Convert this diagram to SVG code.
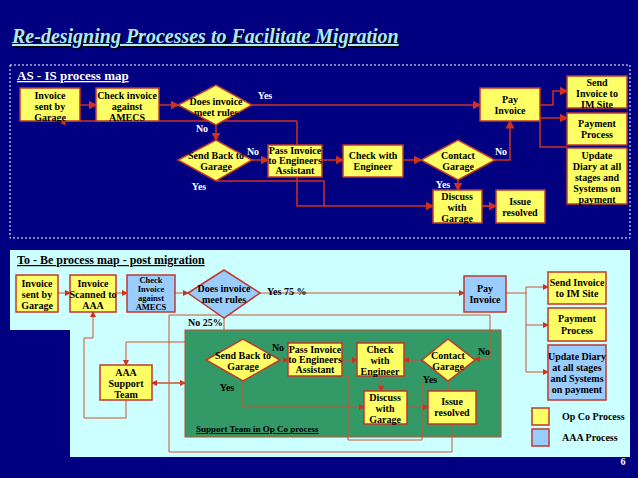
<svg xmlns="http://www.w3.org/2000/svg" width="638" height="478" viewBox="0 0 638 478">
<defs>
<marker id="ar" markerWidth="6" markerHeight="6" refX="5" refY="3" orient="auto"><path d="M0,0L6,3L0,6z" fill="#d03020"/></marker>
<style>
.y{fill:#ffff66;stroke:#c0392b;stroke-width:1.5}
.b{fill:#99ccff;stroke:#c0392b;stroke-width:1.5}
text{font-family:"Liberation Serif",serif;font-weight:bold;font-size:10px;text-anchor:middle;fill:#000}
.w{fill:#fff}
.l{text-anchor:start}
.s{font-size:8.5px}
.c path,.c polyline,.c line{fill:none;stroke:#d03020;stroke-width:1.5}
.c2 path,.c2 polyline,.c2 line{fill:none;stroke:#d05030;stroke-width:1}
</style>
</defs>
<rect width="638" height="478" fill="#000080"/>
<text x="12" y="43" class="l" style="font-size:20px;font-style:italic;fill:#000;text-decoration:underline" transform="translate(1.5,1.5)">Re-designing Processes to Facilitate Migration</text>
<text x="12" y="43" class="l" style="font-size:20px;font-style:italic;fill:#aeeaff;text-decoration:underline">Re-designing Processes to Facilitate Migration</text>
<rect x="10" y="65" width="620" height="173" fill="none" stroke="#fff" stroke-dasharray="2,2"/>
<text x="17" y="80" class="l w" style="font-size:13px;text-decoration:underline">AS - IS   process map</text>
<g class="c">
<line x1="80" y1="105" x2="96" y2="105" marker-end="url(#ar)"/>
<line x1="159" y1="105" x2="178" y2="105" marker-end="url(#ar)"/>
<line x1="252" y1="105" x2="480" y2="105" marker-end="url(#ar)"/>
<line x1="216" y1="125" x2="216" y2="140" marker-end="url(#ar)"/>
<line x1="252" y1="160" x2="268" y2="160" marker-end="url(#ar)"/>
<line x1="322" y1="160" x2="343" y2="160" marker-end="url(#ar)"/>
<line x1="403" y1="160" x2="421" y2="160" marker-end="url(#ar)"/>
<polyline points="495,160 510,160 510,140 510,121" marker-end="url(#ar)"/>
<line x1="458" y1="180" x2="458" y2="190" marker-end="url(#ar)"/>
<polyline points="297,121 297,206 433,206" marker-end="url(#ar)"/>
<polyline points="297,121 58,121" marker-end="url(#ar)"/>
<line x1="482" y1="206" x2="545" y2="206"/>
<line x1="482" y1="206" x2="496" y2="206" marker-end="url(#ar)"/>
<polyline points="216,181 324,181 324,206"/>
<polyline points="540,105 553,105 553,91 567,91" marker-end="url(#ar)"/>
<polyline points="540,118 567,118" marker-end="url(#ar)"/>
<polyline points="540,118 540,147 567,147"/>
</g>
<g id="a1"><rect class="y" x="20" y="88" width="60" height="33"/><text x="50" y="99">Invoice</text><text x="50" y="110">sent by</text><text x="50" y="121">Garage</text></g>
<g id="a2"><rect class="y" x="96" y="88" width="63" height="33"/><text x="127" y="99">Check invoice</text><text x="127" y="110">against</text><text x="127" y="121">AMECS</text></g>
<g id="a3"><polygon class="y" points="178,105 216,85 252,105 216,125"/><text x="216" y="105">Does invoice</text><text x="216" y="116">meet rules</text></g>
<g id="a4"><rect class="y" x="480" y="88" width="60" height="33"/><text x="510" y="103">Pay</text><text x="510" y="114">Invoice</text></g>
<g id="a5"><rect class="y" x="567" y="76" width="60" height="32"/><text x="597" y="86">Send</text><text x="597" y="97">Invoice to</text><text x="597" y="108">IM Site</text></g>
<g id="a6"><rect class="y" x="567" y="113" width="60" height="32"/><text x="597" y="127">Payment</text><text x="597" y="138">Process</text></g>
<g id="a7"><rect class="y" x="567" y="148" width="60" height="56"/><text x="597" y="159">Update</text><text x="597" y="170">Diary at all</text><text x="597" y="181">stages and</text><text x="597" y="192">Systems on</text><text x="597" y="203">payment</text></g>
<g id="a8"><polygon class="y" points="178,160 216,140 252,160 216,181"/><text x="216" y="159">Send Back to</text><text x="216" y="170">Garage</text></g>
<g id="a9"><rect class="y" x="268" y="145" width="54" height="32"/><text x="295" y="154">Pass Invoice</text><text x="295" y="164">to Engineers</text><text x="295" y="174">Assistant</text></g>
<g id="a10"><rect class="y" x="343" y="145" width="60" height="32"/><text x="373" y="159">Check with</text><text x="373" y="170">Engineer</text></g>
<g id="a11"><polygon class="y" points="421,160 458,140 495,160 458,180"/><text x="458" y="159">Contact</text><text x="458" y="170">Garage</text></g>
<g id="a12"><rect class="y" x="433" y="190" width="49" height="33"/><text x="457" y="200">Discuss</text><text x="457" y="211">with</text><text x="457" y="222">Garage</text></g>
<g id="a13"><rect class="y" x="496" y="190" width="49" height="33"/><text x="520" y="205">Issue</text><text x="520" y="216">resolved</text></g>
<g><text class="w" x="265" y="99">Yes</text><text class="w" x="202" y="132">No</text><text class="w" x="253" y="155">No</text><text class="w" x="501" y="155">No</text><text class="w" x="443" y="188">Yes</text><text class="w" x="199" y="190">Yes</text></g>

<path d="M10,250H630V457H70V330H10Z" fill="#ccffff"/>
<text x="17" y="264" class="l" style="font-size:12px;text-decoration:underline">To - Be   process map - post migration</text>
<rect x="185" y="330" width="316" height="107" fill="#339966" stroke="#c05030"/>
<text x="196" y="432" class="l" style="font-size:9px;text-decoration:underline">Support Team in Op Co process</text>
<g class="c2">
<line x1="58" y1="293" x2="70" y2="293" marker-end="url(#ar)"/>
<line x1="116" y1="293" x2="127" y2="293" marker-end="url(#ar)"/>
<line x1="175" y1="293" x2="188" y2="293" marker-end="url(#ar)"/>
<line x1="260" y1="293" x2="464" y2="293" marker-end="url(#ar)"/>
<polyline points="506,293 526,293 526,287 548,287" marker-end="url(#ar)"/>
<polyline points="526,293 526,325 548,325" marker-end="url(#ar)"/>
<polyline points="526,325 526,372 548,372" marker-end="url(#ar)"/>
<polyline points="224,318 224,330"/>
<polyline points="169,315 490,315 490,359 475,359" marker-end="url(#ar)"/>
<polyline points="169,315 169,452 452,452 452,424"/>
<line x1="280" y1="360" x2="288" y2="360" marker-end="url(#ar)"/>
<line x1="342" y1="360" x2="357" y2="360" marker-end="url(#ar)"/>
<line x1="422" y1="360" x2="404" y2="360" marker-end="url(#ar)"/>
<polyline points="448,381 448,391"/>
<polyline points="381,376 381,391" marker-end="url(#ar)"/>
<polyline points="243,381 243,407 364,407" marker-end="url(#ar)"/>
<line x1="407" y1="407" x2="428" y2="407" marker-end="url(#ar)"/>
<polyline points="185,342 126,342 126,365" marker-end="url(#ar)"/>
<line x1="152" y1="383" x2="185" y2="383" marker-end="url(#ar)"/>
<line x1="185" y1="383" x2="152" y2="383" marker-end="url(#ar)"/>
<polyline points="126,400 126,418 84,418 84,338 93,338 93,312" marker-end="url(#ar)"/>
<polyline points="345,376 348,376 348,440 422,440 422,381"/>
</g>
<g id="b1"><rect class="y" x="16" y="275" width="42" height="37"/><text x="37" y="287">Invoice</text><text x="37" y="298">sent by</text><text x="37" y="309">Garage</text></g>
<g id="b2"><rect class="y" x="70" y="275" width="46" height="37"/><text x="93" y="287">Invoice</text><text x="93" y="298">Scanned to</text><text x="93" y="309">AAA</text></g>
<g id="b3"><rect class="b" x="127" y="275" width="48" height="37"/><text class="s" x="151" y="283">Check</text><text class="s" x="151" y="292">Invoice</text><text class="s" x="151" y="301">against</text><text class="s" x="151" y="310">AMECS</text></g>
<g id="b4"><polygon class="b" points="188,293 224,270 260,293 224,318"/><text x="224" y="292">Does invoice</text><text x="224" y="303">meet rules</text></g>
<g id="b5"><rect class="b" x="464" y="276" width="42" height="36"/><text x="485" y="292">Pay</text><text x="485" y="303">Invoice</text></g>
<g id="b6"><rect class="y" x="548" y="272" width="58" height="32"/><text x="577" y="286">Send Invoice</text><text x="577" y="297">to IM Site</text></g>
<g id="b7"><rect class="y" x="548" y="308" width="58" height="33"/><text x="577" y="322">Payment</text><text x="577" y="334">Process</text></g>
<g id="b8"><rect class="b" x="548" y="345" width="58" height="55"/><text x="577" y="360">Update Diary</text><text x="577" y="371">at all stages</text><text x="577" y="382">and Systems</text><text x="577" y="393">on payment</text></g>
<g id="b9"><polygon class="y" points="206,360 243,339 280,360 243,381"/><text x="243" y="359">Send Back to</text><text x="243" y="370">Garage</text></g>
<g id="b10"><rect class="y" x="288" y="343" width="54" height="33"/><text x="315" y="353">Pass Invoice</text><text x="315" y="363">to Engineers</text><text x="315" y="373">Assistant</text></g>
<g id="b11"><rect class="y" x="357" y="343" width="47" height="33"/><text x="380" y="353">Check</text><text x="380" y="364">with</text><text x="380" y="375">Engineer</text></g>
<g id="b12"><polygon class="y" points="422,360 448,339 475,360 448,381"/><text x="448" y="359">Contact</text><text x="448" y="370">Garage</text></g>
<g id="b13"><rect class="y" x="364" y="391" width="43" height="33"/><text x="385" y="401">Discuss</text><text x="385" y="412">with</text><text x="385" y="423">Garage</text></g>
<g id="b14"><rect class="y" x="428" y="391" width="48" height="33"/><text x="452" y="405">Issue</text><text x="452" y="416">resolved</text></g>
<g id="b15"><rect class="y" x="100" y="365" width="52" height="35"/><text x="126" y="376">AAA</text><text x="126" y="387">Support</text><text x="126" y="398">Team</text></g>
<g id="legend"><rect class="y" x="532" y="408" width="17" height="17"/><text x="562" y="420" class="l">Op Co Process</text><rect class="b" x="532" y="429" width="17" height="17"/><text x="562" y="441" class="l">AAA Process</text></g>
<text x="267" y="295" class="l">Yes 75 %</text><text x="188" y="326" class="l">No 25%</text>
<text x="278" y="351">No</text><text x="484" y="355">No</text><text x="430" y="383">Yes</text><text x="227" y="391">Yes</text>
<text x="623" y="465" class="w">6</text>
</svg>
